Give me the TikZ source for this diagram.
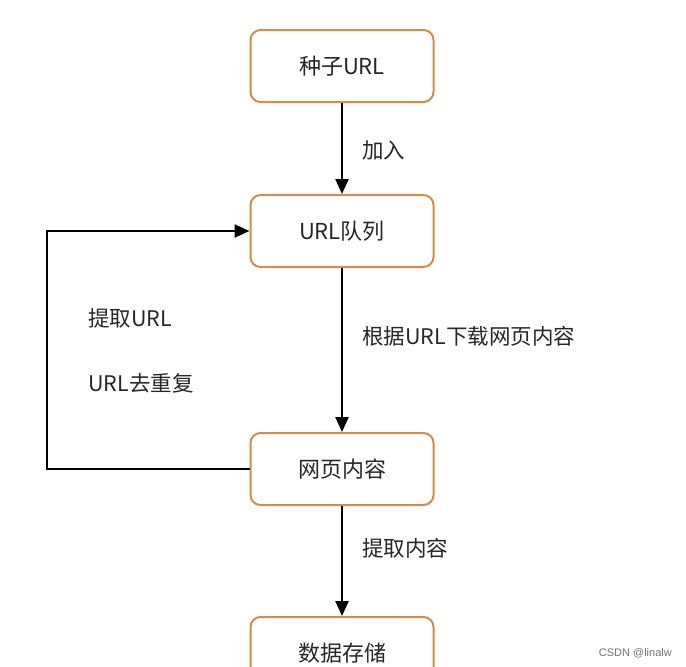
\documentclass[tikz,border=0pt]{standalone}
\usepackage{fontspec}
\setmainfont{Noto Sans CJK SC}
\usetikzlibrary{arrows.meta}
\begin{document}
\begin{tikzpicture}[x=1pt,y=-1pt,
  box/.style={draw={rgb,255:red,214;green,140;blue,70},line width=2pt,rounded corners=10pt,minimum width=183pt,minimum height=72pt,font=\fontsize{22}{26}\selectfont,text=black!85,inner sep=0pt},
  conn/.style={line width=2.4pt,-{Triangle[length=15pt,width=13pt]}},
  lbl/.style={font=\fontsize{21.5}{26}\selectfont,text=black!85,anchor=west,inner sep=0pt}]
\useasboundingbox (0,0) rectangle (686,667);
\clip (0,0) rectangle (686,667);
\node[box] (a) at (342,66) {种子URL};
\node[box] (b) at (342,231) {URL队列};
\node[box] (c) at (342,469) {网页内容};
\node[box] (d) at (342,653) {数据存储};
\coordinate (p1) at (47,469);
\coordinate (p2) at (47,231);
\draw[conn] (a) -- (b);
\draw[conn] (b) -- (c);
\draw[conn] (c) -- (d);
\draw[conn] (c.west) -- (p1) -- (p2) -- (b.west);
\node[lbl] (l1) at (362,150) {加入};
\node[lbl] (l2) at (362,336) {根据URL下载网页内容};
\node[lbl] (l3) at (88,318) {提取URL};
\node[lbl] (l4) at (88,383) {URL去重复};
\node[lbl] (l5) at (362,548) {提取内容};
\node[anchor=east,inner sep=0pt,font=\fontsize{11}{13}\selectfont,text=black!55] (w) at (672,653) {\setmainfont{Liberation Sans}CSDN @linalw};
\end{tikzpicture}
\end{document}
